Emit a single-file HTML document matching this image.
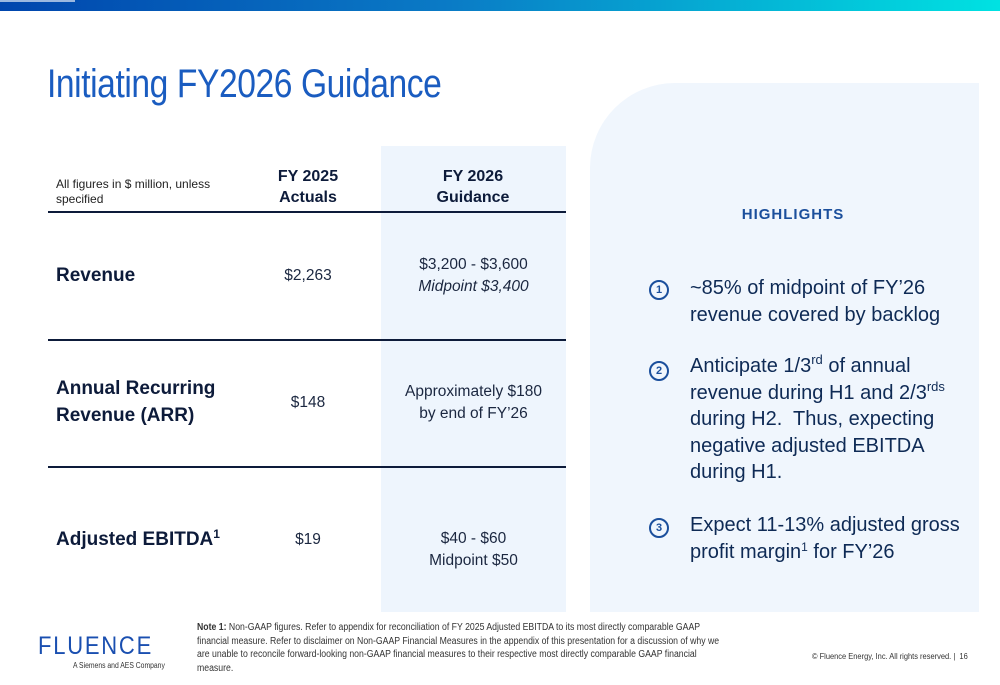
<!DOCTYPE html>
<html><head><meta charset="utf-8"><style>
*{margin:0;padding:0;box-sizing:border-box}
body{width:1000px;height:685px;position:relative;background:#fff;font-family:"Liberation Sans",sans-serif;color:#1a1a2e;overflow:hidden}
.abs{position:absolute}
.row-label{font-weight:bold;font-size:19px;color:#0d1b3a;line-height:27px}
.val{font-size:15.5px;color:#1b2740;text-align:center;line-height:22px}
.hl{font-size:20px;color:#0e2a55;line-height:26.5px}
sup{line-height:0;vertical-align:0.6em}
.num{width:20px;height:20px;border:2px solid #1b4f9c;border-radius:50%;font-size:11px;font-weight:bold;text-align:center;line-height:16px;color:#1b4f9c}
.fn{white-space:nowrap}
</style></head><body>
<div class="abs" style="left:0;top:0;width:1000px;height:11px;background:linear-gradient(90deg,#0045ad,#0a7bc6 45%,#00e2e2)"></div>
<div class="abs" style="left:0;top:0;width:75px;height:2px;background:#9bb8e0"></div>
<div class="abs" style="left:47px;top:62px;font-size:40px;color:#1a5cc0;letter-spacing:-0.5px;font-weight:normal;white-space:nowrap;transform:scaleX(0.84);transform-origin:left">Initiating FY2026 Guidance</div>
<div class="abs" style="left:590px;top:83px;width:389px;height:529px;background:#f0f6fd;border-top-left-radius:85px"></div>
<div class="abs" style="left:381px;top:146px;width:185px;height:466px;background:#eef5fd"></div>
<div class="abs" style="left:56px;top:177px;font-size:12px;line-height:15px;color:#222">All figures in $ million, unless<br>specified</div>
<div class="abs" style="left:258px;top:166px;width:100px;text-align:center;font-weight:bold;font-size:16px;line-height:21px;color:#0d1b3a">FY 2025<br>Actuals</div>
<div class="abs" style="left:423px;top:166px;width:100px;text-align:center;font-weight:bold;font-size:16px;line-height:21px;color:#0d1b3a">FY 2026<br>Guidance</div>
<div class="abs" style="left:48px;top:211px;width:518px;height:2px;background:#0d1b3a"></div>
<div class="abs row-label" style="left:56px;top:262px">Revenue</div>
<div class="abs val" style="left:258px;top:265px;width:100px">$2,263</div>
<div class="abs val" style="left:381px;top:254px;width:185px">$3,200 - $3,600<br><i>Midpoint $3,400</i></div>
<div class="abs" style="left:48px;top:339px;width:518px;height:1.5px;background:#0d1b3a"></div>
<div class="abs row-label" style="left:56px;top:375px">Annual Recurring<br>Revenue (ARR)</div>
<div class="abs val" style="left:258px;top:392px;width:100px">$148</div>
<div class="abs val" style="left:381px;top:381px;width:185px">Approximately $180<br>by end of FY’26</div>
<div class="abs" style="left:48px;top:466px;width:518px;height:1.5px;background:#0d1b3a"></div>
<div class="abs row-label" style="left:56px;top:526px">Adjusted EBITDA<sup style="font-size:12px">1</sup></div>
<div class="abs val" style="left:258px;top:529px;width:100px">$19</div>
<div class="abs val" style="left:381px;top:528px;width:185px">$40 - $60<br>Midpoint $50</div>
<div class="abs" style="left:593px;top:206px;width:400px;text-align:center;font-weight:bold;font-size:15px;letter-spacing:1px;color:#1b4f9c">HIGHLIGHTS</div>
<div class="abs num" style="left:649px;top:280px">1</div>
<div class="abs hl" style="left:690px;top:275px">~85% of midpoint of FY’26<br>revenue covered by backlog</div>
<div class="abs num" style="left:649px;top:361px">2</div>
<div class="abs hl" style="left:690px;top:353px">Anticipate 1/3<sup style="font-size:13px">rd</sup> of annual<br>revenue during H1 and 2/3<sup style="font-size:13px">rds</sup><br>during H2.&nbsp; Thus, expecting<br>negative adjusted EBITDA<br>during H1.</div>
<div class="abs num" style="left:649px;top:518px">3</div>
<div class="abs hl" style="left:690px;top:512px">Expect 11-13% adjusted gross<br>profit margin<sup style="font-size:12px">1</sup> for FY’26</div>
<div class="abs" style="left:38px;top:632px;font-size:25px;letter-spacing:2px;color:#1a4fb0;font-weight:normal;white-space:nowrap;transform:scaleX(0.88);transform-origin:left">FLUENCE</div>
<div class="abs" style="left:73px;top:661px;font-size:8px;color:#333;white-space:nowrap;transform:scaleX(0.85);transform-origin:left">A Siemens and AES Company</div>
<div class="abs" style="left:197px;top:621px;font-size:10px;line-height:13.5px;color:#333;transform:scaleX(0.87);transform-origin:left">
<div class="fn"><b>Note 1:</b> Non-GAAP figures. Refer to appendix for reconciliation of FY 2025 Adjusted EBITDA to its most directly comparable GAAP</div>
<div class="fn">financial measure. Refer to disclaimer on Non-GAAP Financial Measures in the appendix of this presentation for a discussion of why we</div>
<div class="fn">are unable to reconcile forward-looking non-GAAP financial measures to their respective most directly comparable GAAP financial</div>
<div class="fn">measure.</div></div>
<div class="abs" style="left:812px;top:651px;font-size:8.5px;color:#333;white-space:nowrap;transform:scaleX(0.88);transform-origin:left">© Fluence Energy, Inc. All rights reserved. |&nbsp; 16</div>
</body></html>
